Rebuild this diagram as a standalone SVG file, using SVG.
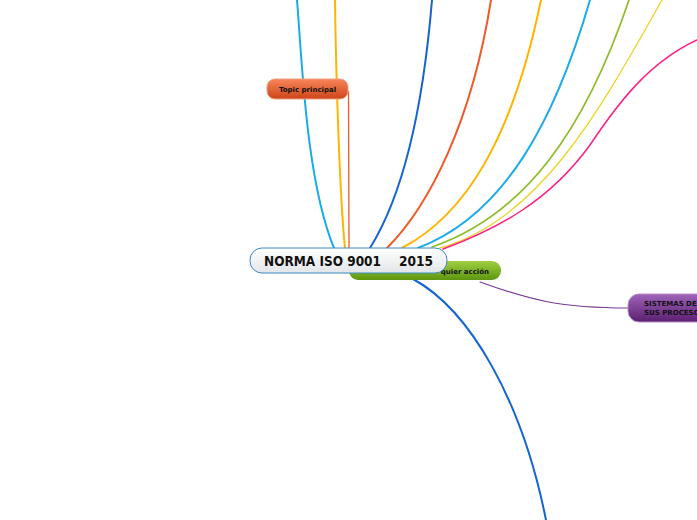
<svg xmlns="http://www.w3.org/2000/svg" width="697" height="520" viewBox="0 0 697 520">
<defs>
<style>
.c{fill:none;stroke-linecap:round}
.t{font-family:"DejaVu Sans",Verdana,sans-serif;font-weight:bold;fill:#111}
</style>
<linearGradient id="gC" x1="0" y1="0" x2="0" y2="1"><stop offset="0" stop-color="#ffffff"/><stop offset="1" stop-color="#e2e6e8"/></linearGradient>
<linearGradient id="gG" x1="0" y1="0" x2="0" y2="1"><stop offset="0" stop-color="#9fd040"/><stop offset="1" stop-color="#5e9610"/></linearGradient>
<linearGradient id="gO" x1="0" y1="0" x2="0" y2="1"><stop offset="0" stop-color="#f8855a"/><stop offset="1" stop-color="#cc4519"/></linearGradient>
<linearGradient id="gP" x1="0" y1="0" x2="0" y2="1"><stop offset="0" stop-color="#a064b8"/><stop offset="1" stop-color="#5a1f70"/></linearGradient>
</defs>
<rect width="697" height="520" fill="#ffffff"/>
<g id="connectors">
<path class="c" d="M334 248 C306 180 302 60 297 0" stroke="#1aabe8" stroke-width="2"/>
<path class="c" d="M345 248 C340 200 336 80 335 0" stroke="#ffb400" stroke-width="2"/>
<path class="c" d="M346 89 L348.5 92 L349 248" stroke="#f05a28" stroke-width="1.3"/>
<path class="c" d="M370 248 C400 200 422 120 432 0" stroke="#1464d2" stroke-width="2"/>
<path class="c" d="M387 248 C430 205 472 120 491 0" stroke="#f05a28" stroke-width="2"/>
<path class="c" d="M402 248 C465 215 512 140 541 0" stroke="#ffb400" stroke-width="2"/>
<path class="c" d="M418 248 C505 215 555 120 590 0" stroke="#1aabe8" stroke-width="2"/>
<path class="c" d="M432 247 C525 215 585 130 629 0" stroke="#8cbc2a" stroke-width="1.7"/>
<path class="c" d="M440 248 C540 220 600 110 662 0" stroke="#ecd422" stroke-width="1.3"/>
<path class="c" d="M443 249 C500 228 550 200 590 145 C620 100 650 62 697 40" stroke="#ff1e82" stroke-width="1.5"/>
<path class="c" d="M413 279 C470 310 522 400 546 520" stroke="#1464d2" stroke-width="2"/>
<path class="c" d="M480 282 C530 300 560 308 628 308" stroke="#7a3a96" stroke-width="1.2"/>
</g>
<g id="node-topic">
<rect x="267" y="79" width="81" height="20" rx="8" fill="url(#gO)" stroke="#f0a080" stroke-width="1"/>
<text class="t" x="307.5" y="92" font-size="7" text-anchor="middle">Topic principal</text>
</g>
<g id="node-green">
<rect x="349" y="261" width="152" height="19" rx="9" fill="url(#gG)"/>
<text class="t" x="489" y="273.5" font-size="7" text-anchor="end">quier acción</text>
</g>
<g id="node-purple">
<rect x="628" y="294" width="90" height="28" rx="11" fill="url(#gP)" stroke="#b890c8" stroke-width="1"/>
<text class="t" x="644" y="306" font-size="7">SISTEMAS DE</text>
<text class="t" x="644" y="315" font-size="7">SUS PROCESO</text>
</g>
<g id="node-central">
<rect x="250" y="248" width="197" height="25" rx="12" fill="url(#gC)" stroke="#3a8ac4" stroke-width="1"/>
<text class="t" x="264" y="266" font-size="13.5" textLength="117" lengthAdjust="spacingAndGlyphs">NORMA ISO 9001</text>
<text class="t" x="399" y="266" font-size="13.5" textLength="34" lengthAdjust="spacingAndGlyphs">2015</text>
</g>
</svg>
